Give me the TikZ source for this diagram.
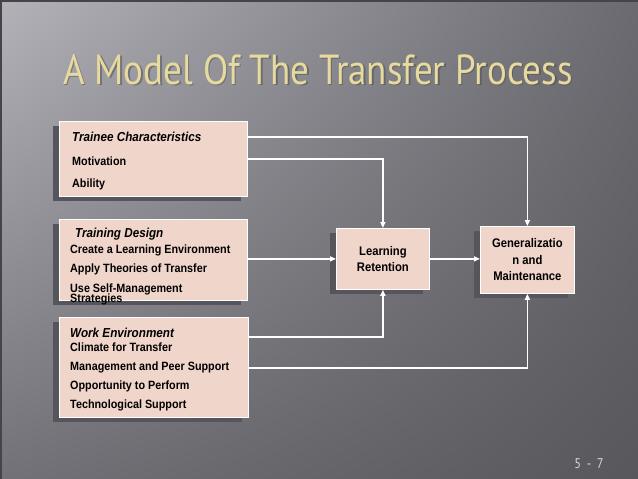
\documentclass[tikz,border=0pt]{standalone}
\usepackage{fontspec}
\usepackage{xcolor}
\usetikzlibrary{arrows.meta, shadows, shadings, positioning}
\newfontfamily\boxfont[FakeStretch=0.9]{Liberation Sans}
\newfontfamily\titlefont[FakeStretch=0.88]{PT Sans}
\definecolor{SlideLight}{HTML}{B3B2B8}
\definecolor{SlideMid}{HTML}{6B6A70}
\definecolor{SlideDark}{HTML}{58575C}
\definecolor{BoxPink}{HTML}{F0D5CB}
\definecolor{BoxShadow}{HTML}{56555B}
\definecolor{TitleGold}{HTML}{E6DA9E}

\begin{document}
\begin{tikzpicture}[x=1pt, y=-1pt]
    \tikzstyle{factor} = [rectangle, draw=white, line width=0.8pt, fill=BoxPink, anchor=north west, inner sep=0pt,
        drop shadow={shadow xshift=-6pt, shadow yshift=-5pt, opacity=1, fill=BoxShadow}]
    \tikzstyle{outcome} = [factor, align=center, font=\boxfont\bfseries\fontsize{12.5}{16.5}\selectfont]
    \tikzstyle{head} = [anchor=west, inner sep=0pt, font=\boxfont\bfseries\itshape\fontsize{13}{15}\selectfont]
    \tikzstyle{item} = [anchor=west, inner sep=0pt, font=\boxfont\bfseries\fontsize{12}{14}\selectfont]
    \tikzstyle{arrow} = [white, line width=1.4pt, -{Triangle[length=6pt, width=5pt]}]

    % slide background
    \useasboundingbox (0,0) rectangle (638,479);
    \shade [upper left=SlideLight, upper right=SlideMid, lower left=SlideMid!90!SlideLight, lower right=SlideDark]
        (0,0) rectangle (638,479);
    \draw [BoxShadow!80!black, line width=2pt] (1,479) -- (1,1) -- (638,1);

    % title
    \node (titleshadow) [anchor=base, black!70, opacity=0.5, font=\titlefont\fontsize{42}{46}\selectfont] at (319.5,85.5) {A Model Of The Transfer Process};
    \node (title) [anchor=base, TitleGold, font=\titlefont\fontsize{42}{46}\selectfont] at (318,84) {A Model Of The Transfer Process};

    % boxes
    \node (trainee) [factor, minimum width=188pt, minimum height=75pt] at (59,121) {};
    \node (design) [factor, minimum width=188pt, minimum height=81pt] at (59,219) {};
    \node (workenv) [factor, minimum width=189pt, minimum height=100pt] at (59,317) {};
    \node (learning) [outcome, minimum width=93pt, minimum height=61pt] at (336,228) {Learning\\Retention};
    \node (general) [outcome, minimum width=94pt, minimum height=67pt] at (480,226) {Generalizatio\\n and\\Maintenance};

    % box texts
    \node (traineehead) [head] at (72,137) {Trainee Characteristics};
    \node (motivation) [item] at (72,161) {Motivation};
    \node (ability) [item] at (72,184) {Ability};

    \node (designhead) [head] at (75,234) {Training Design};
    \node (environment) [item] at (70,250) {Create a Learning Environment};
    \node (theories) [item] at (70,269) {Apply Theories of Transfer};
    \node (selfmgmt) [item] at (70,289) {Use Self-Management};
    \node (strategies) [item] at (70,299) {Strategies};

    \node (workhead) [head] at (70,333) {Work Environment};
    \node (climate) [item] at (70,347) {Climate for Transfer};
    \node (peer) [item] at (70,367) {Management and Peer Support};
    \node (perform) [item] at (70,386) {Opportunity to Perform};
    \node (techsupport) [item] at (70,405) {Technological Support};

    % page number
    \node (pagenum) [anchor=base, gray!30, font=\titlefont\fontsize{14}{16}\selectfont] at (589,468) {5\,\ -\ \,7};

    % connectors
    \draw [arrow] ([yshift=-16pt]trainee.north east) -| (general.north);
    \draw [arrow] (trainee.east) -| (learning.north);
    \draw [arrow] (design.east |- learning.west) -- (learning.west);
    \draw [arrow] (learning.east) -- (learning.east -| general.west);
    \draw [arrow] ([yshift=-20pt]workenv.north east) -| (learning.south);
    \draw [arrow] ([yshift=-51pt]workenv.north east) -| (general.south);

\end{tikzpicture}
\end{document}
